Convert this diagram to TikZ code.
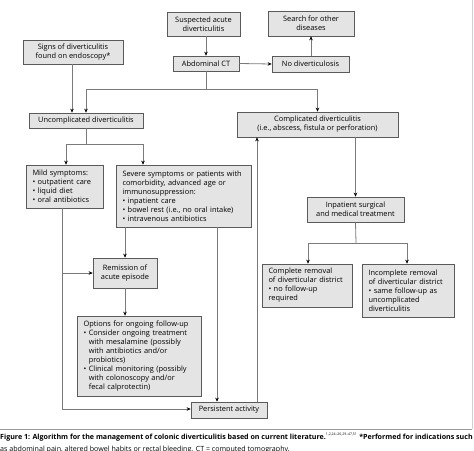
\documentclass[tikz,border=0pt]{standalone}
\usepackage{fontspec}
\setmainfont{Open Sans}
\setsansfont{Open Sans}
\usetikzlibrary{arrows.meta,calc}
\definecolor{boxfill}{HTML}{E4E4E4}
\definecolor{boxline}{HTML}{5A5A5A}
\definecolor{conn}{HTML}{7A7A7A}
\definecolor{rule}{HTML}{9A9A9A}
\definecolor{edge}{HTML}{D0D0D0}
\begin{document}
\begin{tikzpicture}[x=1pt,y=-1pt,
  box/.style={draw=boxline, fill=boxfill, line width=0.7pt, inner sep=0pt,
    font=\fontsize{7.4}{9}\selectfont, align=center},
  lbox/.style={box, align=left, inner xsep=6.5pt},
  conn/.style={draw=conn, line width=0.8pt},
  arr/.style={conn, -{Stealth[length=4pt,width=3.6pt,color=black,fill=black]}}]
\useasboundingbox (0,0) rectangle (474,450);
% page edges
\draw[edge, line width=0.8pt] (472,0) -- (472,429);
\draw[rule, line width=0.7pt] (0,429) -- (472,429);

\node[box, minimum width=73pt, minimum height=24pt] (susp) at (203.5,24) {Suspected acute\\diverticulitis};
\node[box, minimum width=86pt, minimum height=25pt] (search) at (311,23.5) {Search for other\\diseases};
\node[box, minimum width=100pt, minimum height=24pt] (signs) at (73,52) {Signs of diverticulitis\\found on endoscopy*};
\node[box, minimum width=66pt, minimum height=15pt] (ct) at (206,63.5) {Abdominal CT};
\node[box, minimum width=77pt, minimum height=16pt] (nodiv) at (310.5,64) {No diverticulosis};
\node[box, minimum width=114pt, minimum height=15pt] (uncomp) at (86,120.5) {Uncomplicated diverticulitis};
\node[box, minimum width=161pt, minimum height=25pt] (comp) at (317.5,124.5) {Complicated diverticulitis\\(i.e., abscess, fistula or perforation)};
\node[lbox, text width=64pt, minimum height=43pt] (mild) at (64.5,186.5) {Mild symptoms:\\\textbullet{} outpatient care\\\textbullet{} liquid diet\\\textbullet{} oral antibiotics};
\node[lbox, text width=122pt, minimum height=62pt] (severe) at (183.5,196) {Severe symptoms or patients with\\comorbidity, advanced age or\\immunosuppression:\\\textbullet{} inpatient care\\\textbullet{} bowel rest (i.e., no oral intake)\\\textbullet{} intravenous antibiotics};
\node[box, minimum width=97pt, minimum height=25pt] (inpat) at (355.5,209.5) {Inpatient surgical\\and medical treatment};
\node[lbox, text width=77pt, minimum height=43pt] (complete) at (307,285.5) {Complete removal\\of diverticular district\\\textbullet{} no follow-up\\required};
\node[lbox, text width=79pt, minimum height=53pt] (incomplete) at (408,290.5) {Incomplete removal\\of diverticular district\\\textbullet{} same follow-up as\\uncomplicated\\diverticulitis};
\node[box, minimum width=64pt, minimum height=30pt] (remis) at (125,273) {Remission of\\acute episode};
\node[lbox, text width=111pt, minimum height=80pt] (options) at (139,356) {\noindent\begin{tabular}{@{}l@{\hspace{2.5pt}}l@{}}
\multicolumn{2}{@{}l@{}}{Options for ongoing follow-up}\\
\textbullet & Consider ongoing treatment\\
 & with mesalamine (possibly\\
 & with antibiotics and/or\\
 & probiotics)\\
\textbullet & Clinical monitoring (possibly\\
 & with colonoscopy and/or\\
 & fecal calprotectin)
\end{tabular}};
\node[box, minimum width=76pt, minimum height=16pt] (persist) at (229,410) {Persistent activity};

% junction coordinates
\coordinate (j1) at (206,89);
\coordinate (j2) at (86,144);
\coordinate (j3) at (62,409);
\coordinate (j4) at (356,243);

% connectors
\draw[arr] (ct.north |- susp.south) -- (ct.north);
\draw[arr] (ct.east) -- (nodiv.west);
\draw[arr] (search.south |- nodiv.north) -- (search.south);
\draw[conn] (ct.south) -- (j1);
\draw[arr] (j1) -| (uncomp.north);
\draw[arr] (j1) -| (comp.north);
\draw[arr] ([xshift=-1pt]signs.south) -- ([xshift=-1pt]signs.south |- uncomp.north);
\draw[conn] (uncomp.south) -- (j2);
\draw[arr] (j2) -| ([xshift=1.5pt]mild.north);
\draw[arr] (j2) -| ([xshift=-40.5pt]severe.north);
\draw[conn] ([xshift=-2.5pt]mild.south) -- (j3);
\draw[arr] (j3) -- (j3 -| persist.west);
\draw[arr] ([xshift=-2.5pt]mild.south |- remis.west) -- (remis.west);
\draw[arr] ([xshift=-58.5pt]severe.south) -- (remis.north);
\draw[arr] ([xshift=33.5pt]severe.south) -- ([xshift=33.5pt]severe.south |- persist.north);
\draw[arr] (remis.south) -- (remis.south |- options.north);
\draw[arr] ([xshift=28pt]persist.north) -- ([xshift=28pt]persist.north |- comp.south);
\draw[arr] (inpat.north |- comp.south) -- (inpat.north);
\draw[conn] (inpat.south) -- (j4);
\draw[arr] (j4) -| ([xshift=1pt]complete.north);
\draw[arr] (j4) -| ([xshift=-1pt]incomplete.north);

% caption
\node[anchor=base west, inner sep=0pt, font=\fontsize{7.1}{9}\selectfont\bfseries] (cap1) at (0,439)
  {Figure 1: Algorithm for the management of colonic diverticulitis based on current literature.\textsuperscript{\fontsize{3.5}{4}\selectfont\mdseries 1,2,24--26,29--47,51} *Performed for indications such};
\node[anchor=base west, inner sep=0pt, font=\fontsize{7.1}{9}\selectfont] (cap2) at (0,451)
  {as abdominal pain, altered bowel habits or rectal bleeding. CT = computed tomography.};
\end{tikzpicture}
\end{document}
